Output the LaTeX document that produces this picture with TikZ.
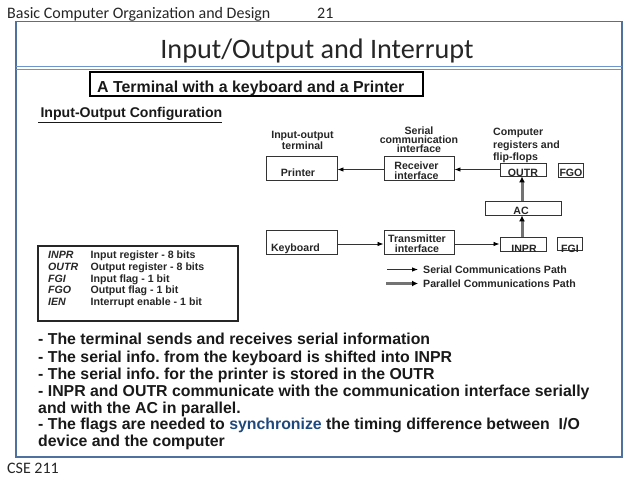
\documentclass[tikz,border=0pt]{standalone}
\usepackage{xcolor}
\usepackage{fontspec}
\usetikzlibrary{arrows.meta}
\setmainfont{Liberation Sans}
\newfontfamily\slidefont{Carlito}
\frenchspacing
\definecolor{frameblue}{RGB}{79,113,160}
\definecolor{ruleblue}{RGB}{110,150,205}
\definecolor{wordblue}{RGB}{31,73,125}
\tikzset{
    box/.style={draw=black!80, line width=0.9pt, inner sep=0pt},
    small/.style={font=\bfseries\fontsize{10.6}{10.6}\selectfont, text=black!85, align=center, inner sep=0pt},
    line/.style={anchor=west, inner sep=0pt, text height=0.72em, text depth=0.2em, font=\bfseries\fontsize{15.85}{15.85}\selectfont, text=black!90},
    head/.style={anchor=west, inner sep=0pt, text height=0.72em, text depth=0.2em, font=\slidefont\fontsize{16}{16}\selectfont, text=black!85},
    key/.style={anchor=west, inner sep=0pt, text height=0.72em, text depth=0.2em, font=\bfseries\itshape\fontsize{10.6}{10.6}\selectfont, text=black!85},
    val/.style={anchor=west, inner sep=0pt, text height=0.72em, text depth=0.2em, font=\bfseries\fontsize{10.6}{10.6}\selectfont, text=black!85},
    serial/.style={-{Latex[color=black,length=6pt,width=4.5pt]}, line width=0.8pt, draw=black!80},
    parallel/.style={-{Latex[color=black,length=6pt,width=6pt]}, draw=black!55, line width=2.6pt},
}
\begin{document}
\begin{tikzpicture}[x=1pt,y=-1pt]
    \useasboundingbox (0,0) rectangle (638,478);

    % Slide
    \draw[frameblue, line width=1.3pt] (16,21.5) rectangle (622,457);
    \draw[ruleblue, line width=1pt] (16,67) -- (622,67);
    \draw[ruleblue, line width=1pt] (16,70) -- (622,70);
    \node[head] (book) at (7,15.5) {Basic Computer Organization and Design};
    \node[head] (page) at (317,15.5) {21};
    \node[head] (course) at (7,471) {CSE 211};
    \node[inner sep=0pt, font=\slidefont\fontsize{28.2}{28.2}\selectfont, text=black!85] (title) at (317,51) {Input/Output and Interrupt};

    % Headings
    \node[draw=black, line width=1.2pt, minimum width=333pt, minimum height=24pt, inner sep=0pt] (termbox) at (256.5,84) {};
    \node[line, font=\bfseries\fontsize{15.9}{15.9}\selectfont] (termtext) at (97,89.5) {A Terminal with a keyboard and a Printer};
    \node[line, font=\bfseries\fontsize{14.1}{14.1}\selectfont] (config) at (38,115) {\underline{\,Input-Output Configuration}};

    % Blocks
    \node[box, minimum width=71pt, minimum height=24pt] (printer) at (301.5,168) {};
    \node[box, minimum width=70pt, minimum height=24pt] (receiver) at (419,168) {};
    \node[box, minimum width=46pt, minimum height=13pt] (outr) at (523,169.5) {};
    \node[box, minimum width=25pt, minimum height=14pt] (fgo) at (570.5,170) {};
    \node[box, minimum width=76pt, minimum height=14pt] (ac) at (523,208) {};
    \node[box, minimum width=71pt, minimum height=24pt] (keyboard) at (301.5,242) {};
    \node[box, minimum width=70pt, minimum height=24pt] (transmitter) at (419,242) {};
    \node[box, minimum width=46pt, minimum height=14pt] (inpr) at (523,244) {};
    \node[box, minimum width=25pt, minimum height=13pt] (fgi) at (569.5,243.5) {};

    % Block labels
    \node[small] (printertext) at (298,172.5) {Printer};
    \node[small, font=\bfseries\fontsize{10.6}{9.5}\selectfont] (receivertext) at (416.5,170.5) {Receiver\\interface};
    \node[small] (outrtext) at (523,173) {OUTR};
    \node[small] (fgotext) at (571,173) {FGO};
    \node[small] (actext) at (521,211) {AC};
    \node[small] (keyboardtext) at (295.5,249) {Keyboard};
    \node[small, font=\bfseries\fontsize{10.6}{9.5}\selectfont] (transmittertext) at (417,243.5) {Transmitter\\interface};
    \node[small] (inprtext) at (524,248.5) {INPR};
    \node[small] (fgitext) at (570,248.5) {FGI};

    % Captions
    \node[small, font=\bfseries\fontsize{10.6}{9.2}\selectfont] (termcap) at (302.5,140) {Input-output\\terminal};
    \node[small, font=\bfseries\fontsize{10.6}{9.2}\selectfont] (ifcap) at (419,140) {Serial\\communication\\interface};
    \node[small, align=left, anchor=west, font=\bfseries\fontsize{10.6}{12.8}\selectfont] (regcap) at (493,145.5) {Computer\\registers and\\flip-flops};

    % Paths
    \draw[serial] (receiver.west |- outr.west) -- (printer.east |- outr.west);
    \draw[serial] (outr.west) -- (receiver.east |- outr.west);
    \draw[serial] (keyboard.east |- inpr.west) -- (transmitter.west |- inpr.west);
    \draw[serial] (transmitter.east |- inpr.west) -- (inpr.west);
    \draw[parallel, line width=3pt] ([xshift=-1pt]ac.north) -- ([xshift=-1pt]outr.south);
    \draw[parallel, line width=3pt] ([xshift=-1pt]inpr.north) -- ([xshift=-1pt]ac.south);

    % Legend
    \coordinate (sera) at (387,269.5);
    \coordinate (serb) at (418,269.5);
    \coordinate (para) at (386,283.5);
    \coordinate (parb) at (418,283.5);
    \draw[serial] (sera) -- (serb);
    \draw[parallel] (para) -- (parb);
    \node[val] (sertext) at (423,270.5) {Serial Communications Path};
    \node[val] (partext) at (423,285) {Parallel Communications Path};

    % Register table
    \node[draw=black!85, line width=1.4pt, minimum width=200pt, minimum height=75pt, inner sep=0pt] (regbox) at (138,283.5) {};
    \node[key] (k1) at (48,256) {INPR};
    \node[val] (v1) at (90.5,256) {Input register - 8 bits};
    \node[key] (k2) at (48,268) {OUTR};
    \node[val] (v2) at (90.5,268) {Output register - 8 bits};
    \node[key] (k3) at (48,279.5) {FGI};
    \node[val] (v3) at (90.5,279.5) {Input flag - 1 bit};
    \node[key] (k4) at (48,291) {FGO};
    \node[val] (v4) at (90.5,291) {Output flag - 1 bit};
    \node[key] (k5) at (48,303) {IEN};
    \node[val] (v5) at (90.5,303) {Interrupt enable - 1 bit};

    % Notes
    \node[line] (n1) at (38,341.5) {- The terminal sends and receives serial information};
    \node[line] (n2) at (38,359.5) {- The serial info. from the keyboard is shifted into INPR};
    \node[line] (n3) at (38,377) {- The serial info. for the printer is stored in the OUTR};
    \node[line] (n4) at (38,394) {- INPR and OUTR communicate with the communication interface serially};
    \node[line] (n5) at (38,410.5) {and with the AC in parallel.};
    \node[line] (n6) at (38,427) {- The flags are needed to \textcolor{wordblue}{synchronize} the timing difference between\ \ I/O};
    \node[line] (n7) at (38,444) {device and the computer};
\end{tikzpicture}
\end{document}
